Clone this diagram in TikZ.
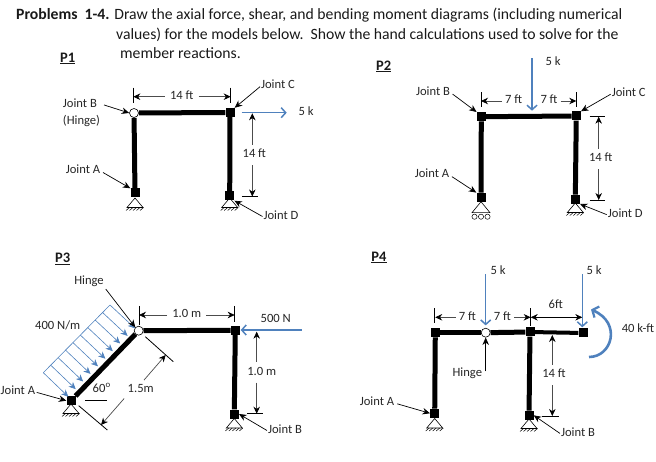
\documentclass[tikz,border=0pt]{standalone}
\usepackage{fontspec}
\setmainfont{Carlito}
\usepackage{xcolor}
\usetikzlibrary{calc}
\usetikzlibrary{arrows.meta}
\definecolor{loadblue}{RGB}{79,129,189}
\tikzset{
  joint/.style={fill=black,minimum size=9pt,inner sep=0pt},
  hinge/.style={circle,draw=black,fill=white,line width=.6pt,minimum size=9pt,inner sep=0pt},
  member/.style={line width=5pt},
  lab/.style={font=\fontsize{12.6}{14}\selectfont,text=black!85,inner sep=0pt,text height=8pt,text depth=2.4pt},
  head/.style={anchor=west,font=\fontsize{15.7}{18}\selectfont,text=black!90,inner sep=0pt},
  prob/.style={font=\fontsize{14.5}{16}\bfseries\selectfont,text=black!90,inner sep=0pt},
  lead/.style={line width=.7pt,shorten <=3pt,-{Stealth[length=7.5pt,width=6.5pt]}},
  dim/.style={line width=.7pt,black!70,shorten <=5pt,-{Stealth[length=7pt,width=6.5pt,black]}},
  tick/.style={line width=.8pt},
  force/.style={line width=1.5pt,loadblue,-{Straight Barb[length=4.5pt,width=10pt,line width=1.5pt]}},
  udl/.style={line width=.6pt,loadblue},
  pics/pinsupport/.style={code={
    \draw[line width=.6pt] (0,0) -- (-8,9.5) -- (8,9.5) -- cycle;
    \foreach \h in {-5.5,-2,1.5,5,8.5} \draw[line width=.5pt] (\h,9.5) -- ++(-3.5,3);
  }},
  pics/rollersupport/.style={code={
    \draw[line width=.6pt] (0,0) -- (-9,11) -- (9,11) -- cycle;
    \foreach \h in {-6.5,0,6.5} \draw[line width=.5pt] (\h,15) circle (2.6);
  }}
}
\begin{document}
\begin{tikzpicture}[x=1pt,y=-1pt]
\useasboundingbox (0,0) rectangle (656,462);
\node[head] (line1) at (16,15.5) {\textbf{Problems\ \ 1-4.} Draw the axial force, shear, and bending moment diagrams (including numerical};
\node[head] (line2) at (116,34.5) {values) for the models below.\ \ Show the hand calculations used to solve for the};
\node[head] (line3) at (120,53) {member reactions.};

\node[prob] (p1) at (67.7,58.5) {\underline{P1}};
\node[joint] (jA1) at (135,193) {};
\node[hinge] (jB1) at (134,113) {};
\node[joint] (jC1) at (230,112.5) {};
\node[joint] (jD1) at (229.7,196) {};
\draw[member] (jA1) -- (jB1);
\draw[member] (jB1) -- (jC1);
\draw[member] (jC1) -- (jD1);
\pic at (135,198) {pinsupport};
\pic at (229.7,198) {pinsupport};
\node[lab] (lA1) at (83,171) {Joint A};
\node[lab,text height=,text depth=,align=left,font=\fontsize{12.6}{16.6}\selectfont] (lB1) at (81.5,112.5) {Joint B\\(Hinge)};
\node[lab] (lC1) at (278,86) {Joint C};
\node[lab] (lD1) at (281,217) {Joint D};
\draw[lead] (lA1.east) -- (jA1.north west);
\draw[lead,shorten <=4pt] (lB1.25) -- (jB1.west);
\draw[lead,shorten <=1pt] (lC1.west) -- (jC1.north east);
\draw[lead,shorten <=1pt] (lD1.west) -- (jD1.south east);
\node[lab] (w1h) at (181.7,96.7) {14 ft};
\coordinate (t1l) at (133.3,96.7);
\coordinate (t1r) at (230.7,96.7);
\draw[dim] (w1h.west) -- (t1l);
\draw[dim] (w1h.east) -- (t1r);
\draw[tick] (t1l) +(0,-9) -- +(0,6);
\draw[tick] (t1r) +(0,-9) -- +(0,6);
\node[lab] (w1v) at (254.3,155) {14 ft};
\coordinate (t1t) at (252.3,113.3);
\coordinate (t1b) at (252.3,196.5);
\draw[dim] (w1v.north -| t1t) -- (t1t);
\draw[dim] (w1v.south -| t1b) -- (t1b);
\draw[tick] (t1b) +(-10.5,0) -- +(6,0);
\coordinate (f1s) at (241.7,112.7);
\node[lab] (f1) at (306,113) {5 k};
\coordinate (f1e) at (286.7,112.7);
\draw[force] (f1s) -- (f1e);

\node[prob] (p2) at (383.7,66.5) {\underline{P2}};
\node[joint] (jA2) at (481,197.3) {};
\node[joint] (jB2) at (481.3,116.7) {};
\node[joint] (jC2) at (576.3,116) {};
\node[joint] (jD2) at (575.3,199.3) {};
\draw[member] (jA2) -- (jB2);
\draw[member] (jB2) -- (jC2);
\draw[member] (jC2) -- (jD2);
\pic at (481,201.7) {rollersupport};
\pic at (575.3,203) {pinsupport};
\node[lab] (lA2) at (432,175) {Joint A};
\node[lab] (lB2) at (433,92.3) {Joint B};
\node[lab] (lC2) at (628.7,93.7) {Joint C};
\node[lab] (lD2) at (625.3,215) {Joint D};
\draw[lead] (lA2.east) -- (jA2.north west);
\draw[lead] (lB2.east) -- (jB2.north west);
\draw[lead,shorten <=1pt] (lC2.west) -- (jC2.north east);
\draw[lead,shorten <=1pt] (lD2.west) -- (jD2.south east);
\node[lab] (w2a) at (513.7,101) {7 ft};
\node[lab] (w2b) at (549,101) {7 ft};
\coordinate (t2l) at (481,101);
\coordinate (t2r) at (576.3,101);
\draw[dim,shorten <=3pt] (w2a.west) -- (t2l);
\draw[dim,shorten <=3pt] (w2b.east) -- (t2r);
\draw[tick] (t2l) +(0,-8.7) -- +(0,5.7);
\draw[tick] (t2r) +(0,-8.7) -- +(0,5.7);
\node[lab] (w2v) at (600.7,159) {14 ft};
\coordinate (t2t) at (598.7,116.7);
\coordinate (t2b) at (598.7,200);
\draw[dim] (w2v.north -| t2t) -- (t2t);
\draw[dim] (w2v.south -| t2b) -- (t2b);
\draw[tick] (t2t) +(-9,0) -- +(6.6,0);
\draw[tick] (t2b) +(-9,0) -- +(6.6,0);
\coordinate (f2s) at (532,58.3);
\coordinate (f2e) at (532,110.7);
\node[lab] (f2) at (553,62.7) {5 k};
\draw[force] (f2s) -- (f2e);

\node[prob] (p3) at (62.7,258.5) {\underline{P3}};
\node[joint] (jA3) at (71,400.7) {};
\node[hinge] (jH3) at (138.7,330.7) {};
\node[joint] (jT3) at (235.3,330.3) {};
\node[joint] (jB3) at (234.3,414) {};
\coordinate (q1) at (43.3,372.7);
\coordinate (q2) at (110,305);
\coordinate (r1) at (68.3,396.7);
\coordinate (r2) at (135,328.3);
\draw[udl] (q1) -- (q2);
\foreach \i [evaluate=\i as \t using \i/9] in {0,...,9}
  \draw[udl,-{Stealth[length=7pt,width=6.5pt]}] ($(q1)!\t!(q2)$) -- ($(r1)!\t!(r2)$);
\draw[member] (jA3) -- (jH3);
\draw[member] (jH3) -- (jT3);
\draw[member] (jT3) -- (jB3);
\pic at (71,404) {pinsupport};
\pic at (234.3,418.5) {pinsupport};
\node[lab] (lH3) at (89,281.3) {Hinge};
\node[lab,anchor=west] (lA3) at (0.5,392) {Joint A};
\node[lab] (lB3) at (285,431) {Joint B};
\node[lab] (lq3) at (57.7,327) {400 N/m};
\draw[lead] (lH3.south east) -- (jH3.north west);
\draw[lead,shorten <=1.5pt] (lA3.east) -- (jA3.west);
\draw[lead,shorten <=1pt] (lB3.west) -- (jB3.east);
\node[lab] (l603) at (101.7,389.3) {60\textsuperscript{o}};
\coordinate (a3l) at (85,400.7);
\coordinate (a3r) at (106.7,400.7);
\draw[line width=1.3pt] (a3l) -- (a3r);
\node[lab] (w3d) at (140.7,389.3) {1.5m};
\coordinate (t3u) at (165.7,355);
\coordinate (t3v) at (101,425);
\draw[dim] (w3d.north) -- (t3u);
\draw[dim] (w3d.south west) -- (t3v);
\draw[tick] (145.3,336.7) -- (173.3,361.7);
\draw[tick] (78.7,405.7) -- (107.3,430);
\node[lab] (w3h) at (186.7,315) {1.0 m};
\coordinate (t3l) at (139,315);
\coordinate (t3r) at (234.7,315);
\draw[dim] (w3h.west) -- (t3l);
\draw[dim] (w3h.east) -- (t3r);
\draw[tick] (t3l) +(0,-9) -- +(0,10);
\draw[tick] (t3r) +(0,-9) -- +(0,6.7);
\node[lab] (w3v) at (261.7,372.3) {1.0 m};
\coordinate (t3t) at (256.7,331.7);
\coordinate (t3b) at (256.7,413.7);
\draw[dim] (w3v.north -| t3t) -- (t3t);
\draw[dim] (w3v.south -| t3b) -- (t3b);
\draw[tick] (t3b) +(-9.4,0) -- +(6.6,0);
\coordinate (f3s) at (301.7,330);
\coordinate (f3e) at (240.7,330);
\node[lab] (f3) at (275.7,320) {500 N};
\draw[force] (f3s) -- (f3e);

\node[prob] (p4) at (379,257.5) {\underline{P4}};
\node[joint] (jA4) at (434.7,413.3) {};
\node[joint] (jC4) at (435.3,332.7) {};
\node[hinge] (jH4) at (485.7,332.7) {};
\node[joint] (jM4) at (530,332) {};
\node[joint] (jE4) at (583,333) {};
\node[joint] (jB4) at (529,415.3) {};
\draw[member] (jA4) -- (jC4);
\draw[member] (jC4) -- (jH4);
\draw[member] (jH4) -- (jM4);
\draw[member] (jM4) -- (jB4);
\draw[line width=4pt] (jM4) -- (jE4);
\pic at (434.7,418.5) {pinsupport};
\pic at (529,419) {pinsupport};
\node[lab] (lH4) at (467.3,373.3) {Hinge};
\node[lab] (lA4) at (377,403) {Joint A};
\node[lab] (lB4) at (578,434) {Joint B};
\draw[lead,shorten <=2pt] (lH4.east -| jH4) -- (jH4);
\draw[lead] (lA4.east) -- (jA4.west);
\draw[lead,shorten <=1pt] (lB4.west) -- (jB4.east);
\node[lab] (w4a) at (467.3,317.3) {7 ft};
\node[lab] (w4b) at (502.3,317.3) {7 ft};
\node[lab] (w4c) at (555.7,306) {6ft};
\coordinate (t4l) at (435.2,317.3);
\coordinate (t4m) at (530.7,317.3);
\coordinate (t4r) at (582.3,317.3);
\draw[dim,shorten <=3pt] (w4a.west) -- (t4l);
\draw[dim,shorten <=3pt] (w4b.east) -- (t4m);
\draw[line width=.7pt,{Stealth[length=7pt,width=6.5pt]}-{Stealth[length=7pt,width=6.5pt]}] (t4m) -- (t4r);
\draw[tick] (t4l) +(-.5,-9) -- +(-.5,6);
\draw[tick] (t4m) +(0,-9) -- +(0,8.7);
\node[lab] (w4v) at (554,375) {14 ft};
\coordinate (t4t) at (552.3,335);
\coordinate (t4b) at (552.3,416);
\draw[dim] (w4v.north -| t4t) -- (t4t);
\draw[dim] (w4v.south -| t4b) -- (t4b);
\draw[tick] (t4b) +(-10.3,0) -- +(6.4,0);
\coordinate (f4a) at (485.7,274.3);
\coordinate (f4b) at (582.3,274.3);
\coordinate (f4c) at (582.3,327.3);
\node[lab] (f4k) at (498,272) {5 k};
\node[lab] (f4l) at (594,272) {5 k};
\draw[force,shorten >=2.5pt] (f4a) -- (jH4);
\draw[force] (f4b) -- (f4c);
\coordinate (m4s) at (589,357);
\coordinate (m4e) at (591,309.5);
\draw[loadblue,line width=2.6pt,-{Straight Barb[length=5pt,width=12pt,line width=2.2pt]}] (m4s) .. controls (612,357) and (622,323) .. (m4e);
\node[lab] (m4) at (638,330) {40 k-ft};
\end{tikzpicture}
\end{document}
